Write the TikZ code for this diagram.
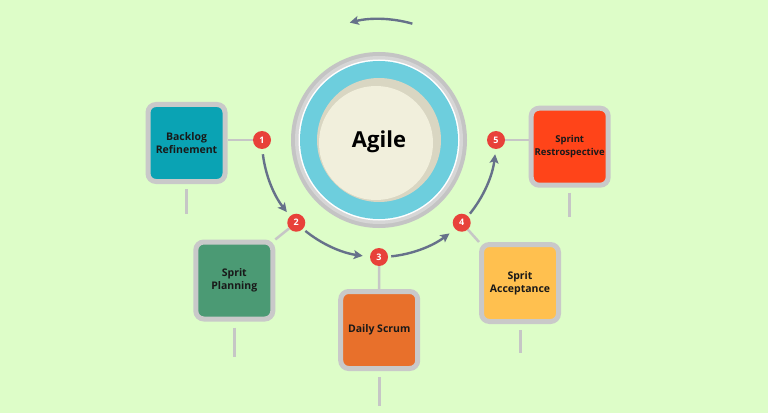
\documentclass[tikz,border=0pt]{standalone}
\usepackage{fontspec}
\setmainfont{Open Sans}
\usetikzlibrary{arrows.meta}

\definecolor{bggreen}{HTML}{DDFDC8}
\definecolor{framegray}{HTML}{C9C9C9}
\definecolor{linkgray}{HTML}{C6C6C6}
\definecolor{arrowslate}{HTML}{66718A}
\definecolor{numred}{HTML}{E8413A}
\definecolor{ringgray}{HTML}{C4C4C4}
\definecolor{ringlight}{HTML}{D6D6D6}
\definecolor{ringblue}{HTML}{6DCEDD}
\definecolor{discshade}{HTML}{D9D6C2}
\definecolor{disccream}{HTML}{F1EFDC}
\definecolor{backlogteal}{HTML}{0AA3B4}
\definecolor{planninggreen}{HTML}{4B9A74}
\definecolor{scrumorange}{HTML}{E8702B}
\definecolor{acceptyellow}{HTML}{FFC04F}
\definecolor{retrored}{HTML}{FF4419}

\tikzset{
  stepbox/.style={rectangle, rounded corners=8pt, draw=framegray, line width=5pt,
    minimum size=77pt, inner sep=0pt, align=center, text=black!90,
    font=\bfseries\fontsize{10.5}{13}\selectfont},
  num/.style={circle, fill=numred, text=white, minimum size=18pt, inner sep=0pt,
    font=\bfseries\fontsize{9}{9}\selectfont},
  link/.style={draw=linkgray, line width=2.5pt},
  stem/.style={draw=linkgray, line width=3pt},
  flow/.style={draw=arrowslate, line width=2.4pt,
    -{Stealth[length=9pt,width=9pt,inset=2pt]}},
}

\begin{document}
\begin{tikzpicture}[x=1pt,y=1pt]
  % Background
  \fill[bggreen] (0,0) rectangle (768,413);
  \useasboundingbox (0,0) rectangle (768,413);
  % Centre disc
  \coordinate (C) at (379,273);
  \fill[ringgray] (C) circle (88);
  \fill[ringlight] (C) circle (84);
  \fill[white] (C) circle (80.5);
  \fill[ringblue] (C) circle (79);
  \fill[discshade] (C) circle (62);
  \fill[disccream] ([shift={(-3,-3)}]C) circle (57);
  \node[font=\bfseries\fontsize{22}{22}\selectfont] (agile) at ([yshift=-2]C) {Agile};
  % Step numbers
  \foreach \n/\a in {1/180, 2/225, 3/270, 4/315, 5/0}
    \node[num] (n\n) at ([shift={(\a:117)}]C) {\n};
  % Boxes
  \node[stepbox, fill=backlogteal] (b1) at (186.5,270) {Backlog\\Refinement};
  \node[stepbox, fill=planninggreen] (b2) at (234.3,132.5) {Sprit\\Planning};
  \node[stepbox, fill=scrumorange] (b3) at (379.2,83) {Daily Scrum};
  \node[stepbox, fill=acceptyellow] (b4) at (520,130) {Sprit\\Acceptance};
  \node[stepbox, fill=retrored, font=\bfseries\fontsize{9.5}{12.5}\selectfont] (b5) at (569.7,266.3) {Sprint\\Restrospective};
  % Links to numbers
  \draw[link] (n1) -- (n1 -| b1.east);
  \draw[link] (n2) -- (b2.north east);
  \draw[link] (n3) -- (b3.north);
  \draw[link] (n4) -- (b4.north west);
  \draw[link] (n5) -- (n5 -| b5.west);
  % Stems
  \draw[stem] ([yshift=-5]b1.south) -- ++(0,-25);
  \draw[stem] ([yshift=-6]b2.south) -- ++(0,-29);
  \draw[stem] ([yshift=-6]b3.south) -- ++(0,-29);
  \draw[stem] ([yshift=-6]b4.south) -- ++(0,-23);
  \draw[stem] ([yshift=-5]b5.south) -- ++(0,-24);
  % Flow arrows
  \draw[flow] ([shift={(187:117)}]C) arc[start angle=187, end angle=218, radius=117];
  \draw[flow] ([shift={(231:117)}]C) arc[start angle=231, end angle=262, radius=117];
  \draw[flow] ([shift={(276:117)}]C) arc[start angle=276, end angle=307, radius=117];
  \draw[flow] ([shift={(321:117)}]C) arc[start angle=321, end angle=353, radius=117];
  \draw[flow] ([shift={(74:121)}]C) arc[start angle=74, end angle=104, radius=121];
\end{tikzpicture}
\end{document}
